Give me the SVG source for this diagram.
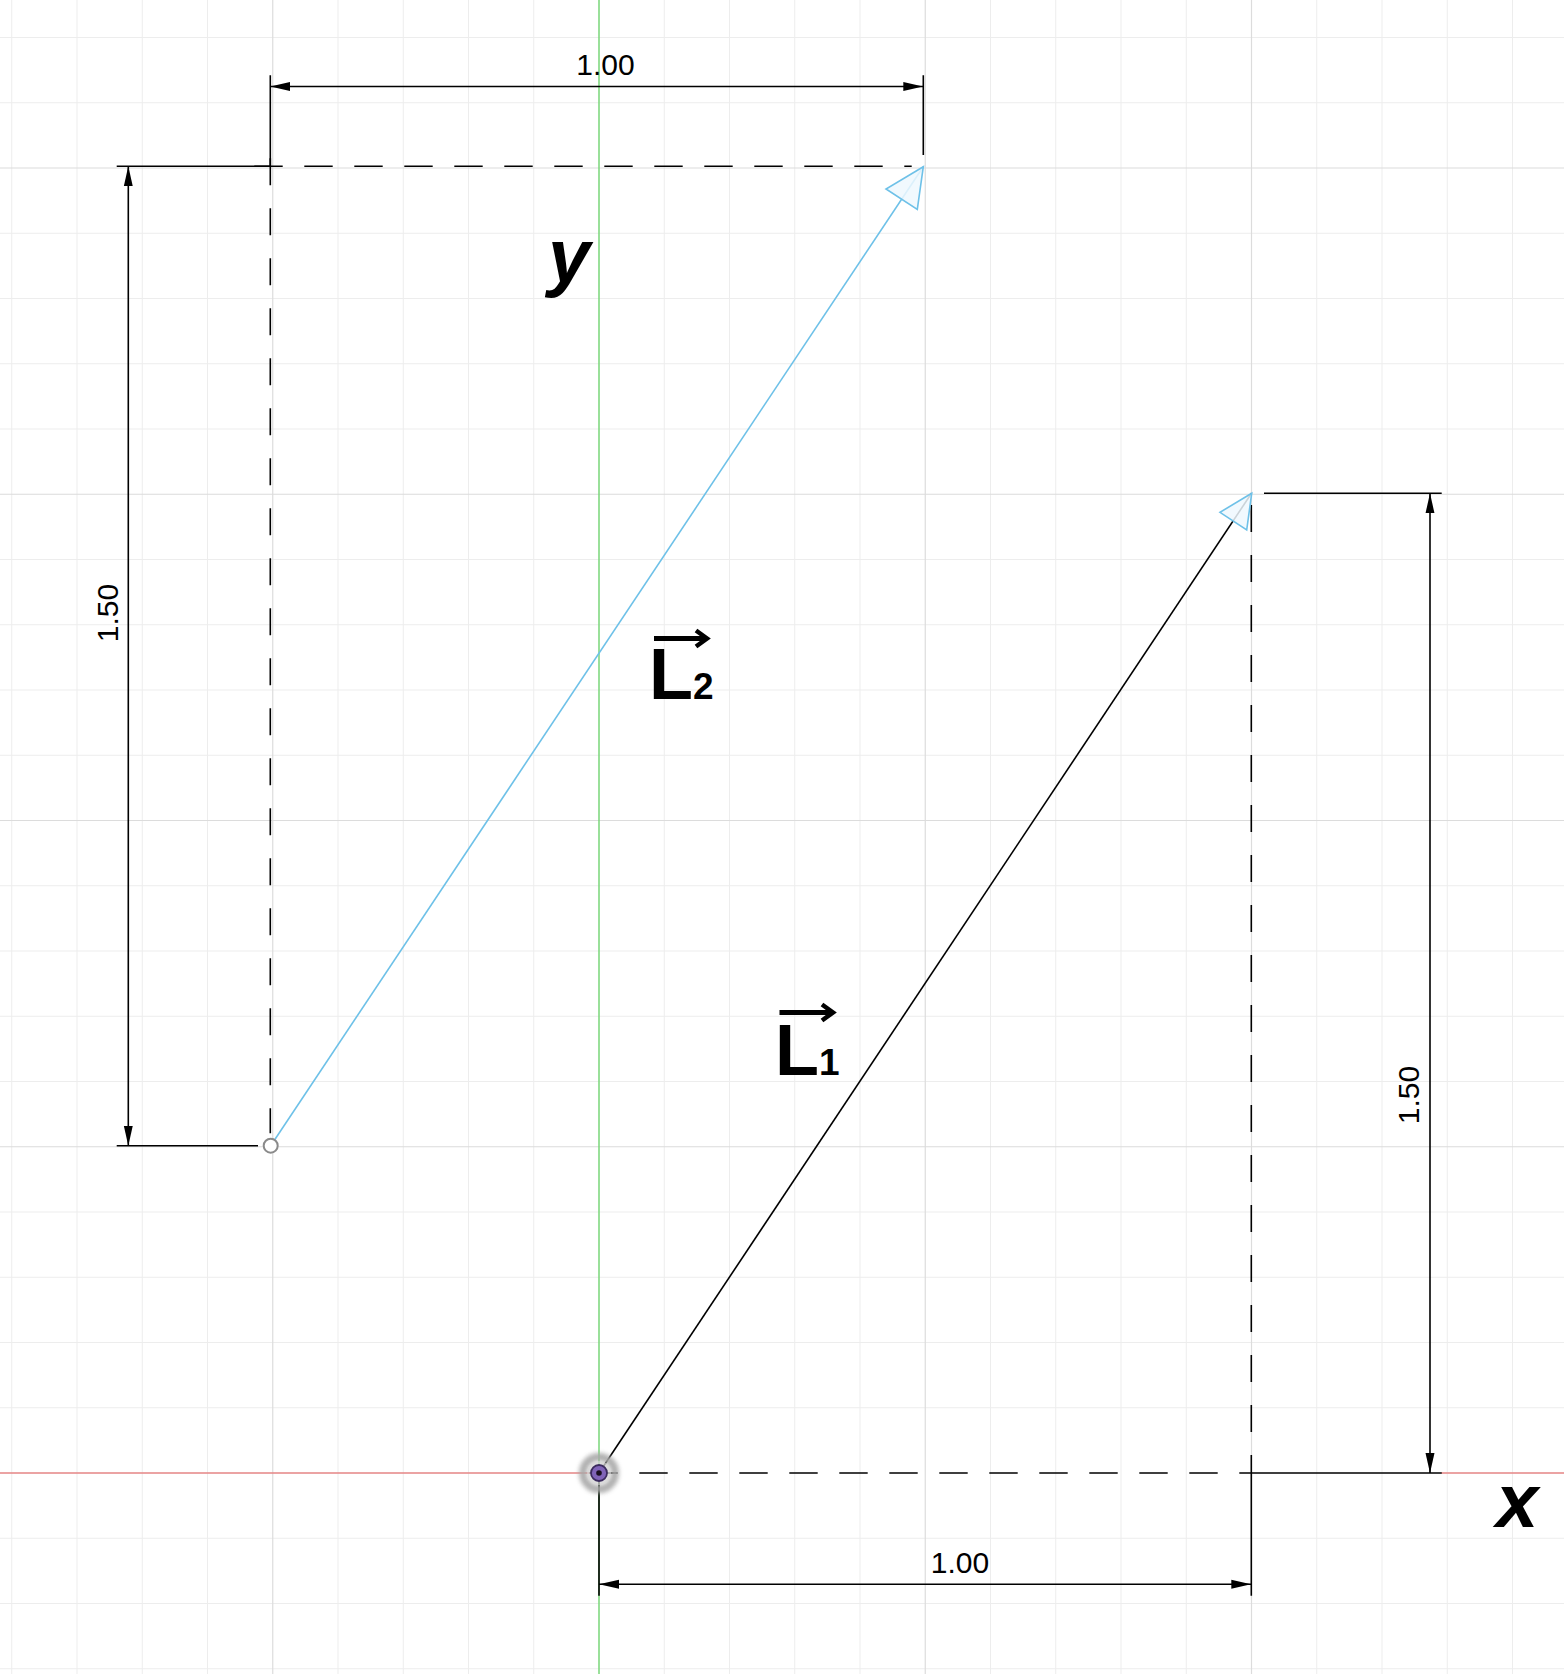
<svg xmlns="http://www.w3.org/2000/svg" width="1564" height="1674" viewBox="0 0 1564 1674">
<defs>
<style>
.minor{stroke:#ededed;stroke-width:1;fill:none}
.major{stroke:#dcdcdc;stroke-width:1.2;fill:none}
.dim{stroke:#000;stroke-width:1.6;fill:none}
.ext{stroke:#000;stroke-width:1.6;fill:none}
.dashh{stroke:#000;stroke-width:1.6;fill:none;stroke-dasharray:28.4 21.6}
.dashv{stroke:#000;stroke-width:1.6;fill:none;stroke-dasharray:27 23}
.dimtxt{font-family:"Liberation Sans",Arial,sans-serif;font-size:30px;fill:#000;text-anchor:middle}
.axlbl{font-family:"Liberation Sans",Arial,sans-serif;font-size:76px;font-weight:bold;font-style:italic;fill:#000}
.vlbl{font-family:"Liberation Sans",Arial,sans-serif;font-weight:bold;fill:#000}
</style>
<marker id="dimArrow" viewBox="0 0 20 10" refX="20" refY="5" markerWidth="20" markerHeight="10" markerUnits="userSpaceOnUse" orient="auto-start-reverse">
<path d="M0,0.5 L20,5 L0,9.5 z" fill="#000"/>
</marker>
<filter id="soft" x="-50%" y="-50%" width="200%" height="200%"><feGaussianBlur stdDeviation="2"/></filter>
</defs>
<rect x="0" y="0" width="1564" height="1674" fill="#fff"/>
<g id="grid">
<path class="minor" d="M11.75,0V1674M77,0V1674M142.25,0V1674M207.5,0V1674M338,0V1674M403.25,0V1674M468.5,0V1674M533.75,0V1674M664.25,0V1674M729.5,0V1674M794.75,0V1674M860,0V1674M990.5,0V1674M1055.75,0V1674M1121,0V1674M1186.25,0V1674M1316.75,0V1674M1382,0V1674M1447.25,0V1674M1512.5,0V1674"/>
<path class="minor" d="M0,37.5H1564M0,102.75H1564M0,233.25H1564M0,298.5H1564M0,363.75H1564M0,429H1564M0,559.5H1564M0,624.75H1564M0,690H1564M0,755.25H1564M0,885.75H1564M0,951H1564M0,1016.25H1564M0,1081.5H1564M0,1212H1564M0,1277.25H1564M0,1342.5H1564M0,1407.75H1564M0,1538.25H1564M0,1603.5H1564M0,1668.75H1564"/>
<path class="major" d="M272.75,0V1674M925.25,0V1674M1251.5,0V1674M0,168H1564M0,494.25H1564M0,820.5H1564M0,1146.75H1564"/>
</g>
<g id="axes">
<line x1="599" y1="0" x2="599" y2="1674" stroke="#79d679" stroke-width="1.5"/>
<line x1="0" y1="1473" x2="599" y2="1473" stroke="#e58484" stroke-width="1.5"/>
<line x1="1441" y1="1473" x2="1564" y2="1473" stroke="#e58484" stroke-width="1.5"/>
<text class="axlbl" x="1496" y="1527">x</text>
<text class="axlbl" x="548" y="282">y</text>
</g>
<g id="connectors">
<path class="dashh" d="M254.3,166.3H911.7"/>
<path class="dashv" d="M270.3,158.3V1133.3"/>
<path class="dashh" d="M589.3,1473H1251.3"/>
<path class="dashv" d="M1251.3,505V1473"/>
<path class="ext" d="M270.3,75.3V166.3M923.3,75.3V155M116.7,166.3H270.3M116.7,1145.7H258M1264,493.3H1441.7M1251.3,1473H1441.7M599,1473V1595.7M1251.3,1473V1595.7"/>
<line class="dim" x1="270.3" y1="86.5" x2="923.3" y2="86.5" marker-start="url(#dimArrow)" marker-end="url(#dimArrow)"/>
<line class="dim" x1="128.3" y1="166.3" x2="128.3" y2="1145.7" marker-start="url(#dimArrow)" marker-end="url(#dimArrow)"/>
<line class="dim" x1="1430" y1="493.3" x2="1430" y2="1473" marker-start="url(#dimArrow)" marker-end="url(#dimArrow)"/>
<line class="dim" x1="599" y1="1584.3" x2="1251.3" y2="1584.3" marker-start="url(#dimArrow)" marker-end="url(#dimArrow)"/>
<text class="dimtxt" x="605.5" y="74.5">1.00</text>
<text class="dimtxt" x="960" y="1573">1.00</text>
<text class="dimtxt" transform="translate(118,613) rotate(-90)">1.50</text>
<text class="dimtxt" transform="translate(1419,1095) rotate(-90)">1.50</text>
</g>
<g id="vector-L2">
<line x1="270.7" y1="1145.7" x2="923.3" y2="166.7" stroke="#6ec1e8" stroke-width="1.6"/>
<polygon points="923.3,166.7 886,189 917.3,209.3" fill="#eef8fe" fill-opacity="0.85" stroke="#6ec1e8" stroke-width="1.6"/>
<circle cx="270.7" cy="1145.7" r="7" fill="#fff" stroke="#8a8a8a" stroke-width="2"/>
<text class="vlbl" x="649" y="699" font-size="72">L<tspan font-size="37">2</tspan></text>
<path d="M654,638.5H706" stroke="#000" stroke-width="5" fill="none"/>
<path d="M696,630.5L707,638.5L696,646.5" stroke="#000" stroke-width="4.5" fill="none"/>
</g>
<g id="vector-L1">
<line x1="599" y1="1473" x2="1251.5" y2="493.3" stroke="#000" stroke-width="1.6"/>
<polygon points="1251.7,493.3 1220,512.3 1246.7,530" fill="#eef8fe" fill-opacity="0.85" stroke="#6ec1e8" stroke-width="1.6"/>
<text class="vlbl" x="775" y="1075" font-size="72">L<tspan font-size="37">1</tspan></text>
<path d="M779.5,1012.5H833" stroke="#000" stroke-width="5" fill="none"/>
<path d="M822,1004.5L833,1012.5L822,1020.5" stroke="#000" stroke-width="4.5" fill="none"/>
</g>
<g id="origin">
<circle cx="599" cy="1473" r="16" fill="none" stroke="#a8a8a8" stroke-width="8" filter="url(#soft)" opacity="0.9"/>
<circle cx="599" cy="1473" r="12" fill="#d4d4d4" opacity="0.7"/>
<circle cx="599" cy="1473" r="8" fill="#8064b8" stroke="#3b2b5e" stroke-width="1.8"/>
<circle cx="599" cy="1473" r="2.8" fill="#1a1020"/>
</g>
</svg>
